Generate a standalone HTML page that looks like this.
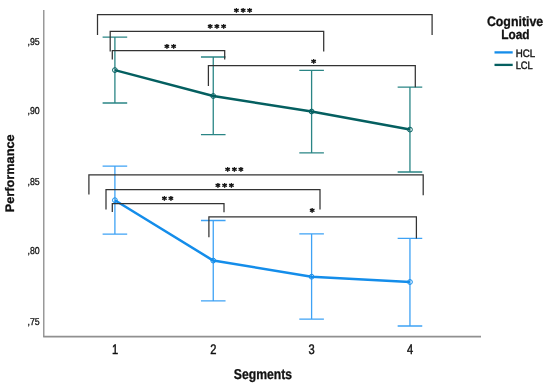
<!DOCTYPE html>
<html><head><meta charset="utf-8"><title>Chart</title>
<style>
html,body{margin:0;padding:0;background:#fff;}
body{width:550px;height:386px;overflow:hidden;font-family:"Liberation Sans",sans-serif;}
svg{display:block;}
text{font-family:"Liberation Sans",sans-serif;fill:#111;text-rendering:geometricPrecision;}
.b{font-weight:bold;}
</style></head><body>
<svg width="550" height="386" viewBox="0 0 550 386">
<rect width="550" height="386" fill="#fff"/>
<path d="M43.8 10V337" fill="none" stroke="#808080" stroke-width="1.2"/>
<path d="M43.2 336.6H481" fill="none" stroke="#909090" stroke-width="1.6"/>
<path d="M102.60 37.2H127.20M102.60 103.0H127.20M114.9 37.2V103.0" stroke="#2a8585" stroke-width="1.3" fill="none"/>
<path d="M102.60 166.2H127.20M102.60 234.1H127.20M114.9 166.2V234.1" stroke="#3ea2f5" stroke-width="1.3" fill="none"/>
<path d="M200.95 57.0H225.55M200.95 134.7H225.55M213.25 57.0V134.7" stroke="#2a8585" stroke-width="1.3" fill="none"/>
<path d="M200.95 220.5H225.55M200.95 300.8H225.55M213.25 220.5V300.8" stroke="#3ea2f5" stroke-width="1.3" fill="none"/>
<path d="M299.30 70.4H323.90M299.30 152.8H323.90M311.6 70.4V152.8" stroke="#2a8585" stroke-width="1.3" fill="none"/>
<path d="M299.30 233.9H323.90M299.30 319.1H323.90M311.6 233.9V319.1" stroke="#3ea2f5" stroke-width="1.3" fill="none"/>
<path d="M397.65 87.2H422.25M397.65 172.0H422.25M409.95 87.2V172.0" stroke="#2a8585" stroke-width="1.3" fill="none"/>
<path d="M397.65 238.4H422.25M397.65 326.0H422.25M409.95 238.4V326.0" stroke="#3ea2f5" stroke-width="1.3" fill="none"/>
<polyline points="114.9,70.1 213.25,96.0 311.6,111.5 409.95,129.6" fill="none" stroke="#045f60" stroke-width="2.5" stroke-linejoin="round"/>
<polyline points="114.9,200.2 213.25,260.6 311.6,276.7 409.95,282.0" fill="none" stroke="#148dea" stroke-width="2.5" stroke-linejoin="round"/>
<circle cx="114.9" cy="70.1" r="2.4" fill="none" stroke="#045f60" stroke-width="1"/>
<circle cx="114.9" cy="200.2" r="2.4" fill="none" stroke="#148dea" stroke-width="1"/>
<circle cx="213.25" cy="96.0" r="2.4" fill="none" stroke="#045f60" stroke-width="1"/>
<circle cx="213.25" cy="260.6" r="2.4" fill="none" stroke="#148dea" stroke-width="1"/>
<circle cx="311.6" cy="111.5" r="2.4" fill="none" stroke="#045f60" stroke-width="1"/>
<circle cx="311.6" cy="276.7" r="2.4" fill="none" stroke="#148dea" stroke-width="1"/>
<circle cx="409.95" cy="129.6" r="2.4" fill="none" stroke="#045f60" stroke-width="1"/>
<circle cx="409.95" cy="282.0" r="2.4" fill="none" stroke="#148dea" stroke-width="1"/>
<path d="M97.5 34.9V14.5H432.1V34.9" fill="none" stroke="#333333" stroke-width="1.25"/>
<path d="M110.2 51.5V31.4H323.7V51.5" fill="none" stroke="#333333" stroke-width="1.25"/>
<path d="M112.3 59.5V50.7H224.7V59.5" fill="none" stroke="#333333" stroke-width="1.25"/>
<path d="M208.4 85.9V65.5H415.3V87.2" fill="none" stroke="#333333" stroke-width="1.25"/>
<path d="M88.9 194.4V174.9H423.2V195.3" fill="none" stroke="#333333" stroke-width="1.25"/>
<path d="M106 209.5V189.5H320V209.5" fill="none" stroke="#333333" stroke-width="1.25"/>
<path d="M112.3 212.0V203.6H224.0V212.3" fill="none" stroke="#333333" stroke-width="1.25"/>
<path d="M208.9 237.2V216.8H416.4V238.4" fill="none" stroke="#333333" stroke-width="1.25"/>
<text x="244.04" y="15.13" text-anchor="middle" font-weight="bold" font-size="9.2" letter-spacing="1.89" stroke="#111" stroke-width="0.55" style="font-family:'DejaVu Sans',sans-serif">***</text>
<text x="217.84" y="30.73" text-anchor="middle" font-weight="bold" font-size="9.2" letter-spacing="1.89" stroke="#111" stroke-width="0.55" style="font-family:'DejaVu Sans',sans-serif">***</text>
<text x="171.24" y="51.03" text-anchor="middle" font-weight="bold" font-size="9.2" letter-spacing="1.89" stroke="#111" stroke-width="0.55" style="font-family:'DejaVu Sans',sans-serif">**</text>
<text x="314.64" y="66.03" text-anchor="middle" font-weight="bold" font-size="9.2" letter-spacing="1.89" stroke="#111" stroke-width="0.55" style="font-family:'DejaVu Sans',sans-serif">*</text>
<text x="235.24" y="174.43" text-anchor="middle" font-weight="bold" font-size="9.2" letter-spacing="1.89" stroke="#111" stroke-width="0.55" style="font-family:'DejaVu Sans',sans-serif">***</text>
<text x="225.64" y="189.53" text-anchor="middle" font-weight="bold" font-size="9.2" letter-spacing="1.89" stroke="#111" stroke-width="0.55" style="font-family:'DejaVu Sans',sans-serif">***</text>
<text x="168.59" y="203.03" text-anchor="middle" font-weight="bold" font-size="9.2" letter-spacing="1.89" stroke="#111" stroke-width="0.55" style="font-family:'DejaVu Sans',sans-serif">**</text>
<text x="313.14" y="214.63" text-anchor="middle" font-weight="bold" font-size="9.2" letter-spacing="1.89" stroke="#111" stroke-width="0.55" style="font-family:'DejaVu Sans',sans-serif">*</text>
<text x="39.7" y="45.0" text-anchor="end" font-size="10" textLength="12.2" lengthAdjust="spacingAndGlyphs" stroke="#111" stroke-width="0.3">,95</text>
<text x="39.7" y="114.2" text-anchor="end" font-size="10" textLength="12.2" lengthAdjust="spacingAndGlyphs" stroke="#111" stroke-width="0.3">,90</text>
<text x="39.7" y="184.7" text-anchor="end" font-size="10" textLength="12.2" lengthAdjust="spacingAndGlyphs" stroke="#111" stroke-width="0.3">,85</text>
<text x="39.7" y="253.8" text-anchor="end" font-size="10" textLength="12.2" lengthAdjust="spacingAndGlyphs" stroke="#111" stroke-width="0.3">,80</text>
<text x="39.7" y="324.5" text-anchor="end" font-size="10" textLength="12.2" lengthAdjust="spacingAndGlyphs" stroke="#111" stroke-width="0.3">,75</text>
<text x="115.00" y="353.6" text-anchor="middle" font-size="13.8" textLength="6.2" lengthAdjust="spacingAndGlyphs" stroke="#111" stroke-width="0.45">1</text>
<text x="213.35" y="353.6" text-anchor="middle" font-size="13.8" textLength="6.2" lengthAdjust="spacingAndGlyphs" stroke="#111" stroke-width="0.45">2</text>
<text x="311.70" y="353.6" text-anchor="middle" font-size="13.8" textLength="6.2" lengthAdjust="spacingAndGlyphs" stroke="#111" stroke-width="0.45">3</text>
<text x="410.05" y="353.6" text-anchor="middle" font-size="13.8" textLength="6.2" lengthAdjust="spacingAndGlyphs" stroke="#111" stroke-width="0.45">4</text>
<text x="233.8" y="378.9" class="b" font-size="14.2" textLength="58.3" lengthAdjust="spacingAndGlyphs" stroke="#111" stroke-width="0.3">Segments</text>
<text transform="translate(14.3 212.3) rotate(-90)" class="b" font-size="12.4" textLength="78.0" lengthAdjust="spacingAndGlyphs" stroke="#111" stroke-width="0.3">Performance</text>
<text x="486.9" y="25.9" class="b" font-size="13.6" textLength="56.3" lengthAdjust="spacingAndGlyphs" stroke="#111" stroke-width="0.3">Cognitive</text>
<text x="501.2" y="38.9" class="b" font-size="13.3" textLength="28.4" lengthAdjust="spacingAndGlyphs" stroke="#111" stroke-width="0.3">Load</text>
<path d="M494.5 52.4H512.7" stroke="#148dea" stroke-width="2.3"/>
<path d="M494.5 64.9H512.7" stroke="#045f60" stroke-width="2.3"/>
<text x="515.7" y="56.5" font-size="10.8" textLength="19.4" lengthAdjust="spacingAndGlyphs" stroke="#111" stroke-width="0.4">HCL</text>
<text x="515.7" y="69.3" font-size="10.8" textLength="17.1" lengthAdjust="spacingAndGlyphs" stroke="#111" stroke-width="0.4">LCL</text>
</svg></body></html>
